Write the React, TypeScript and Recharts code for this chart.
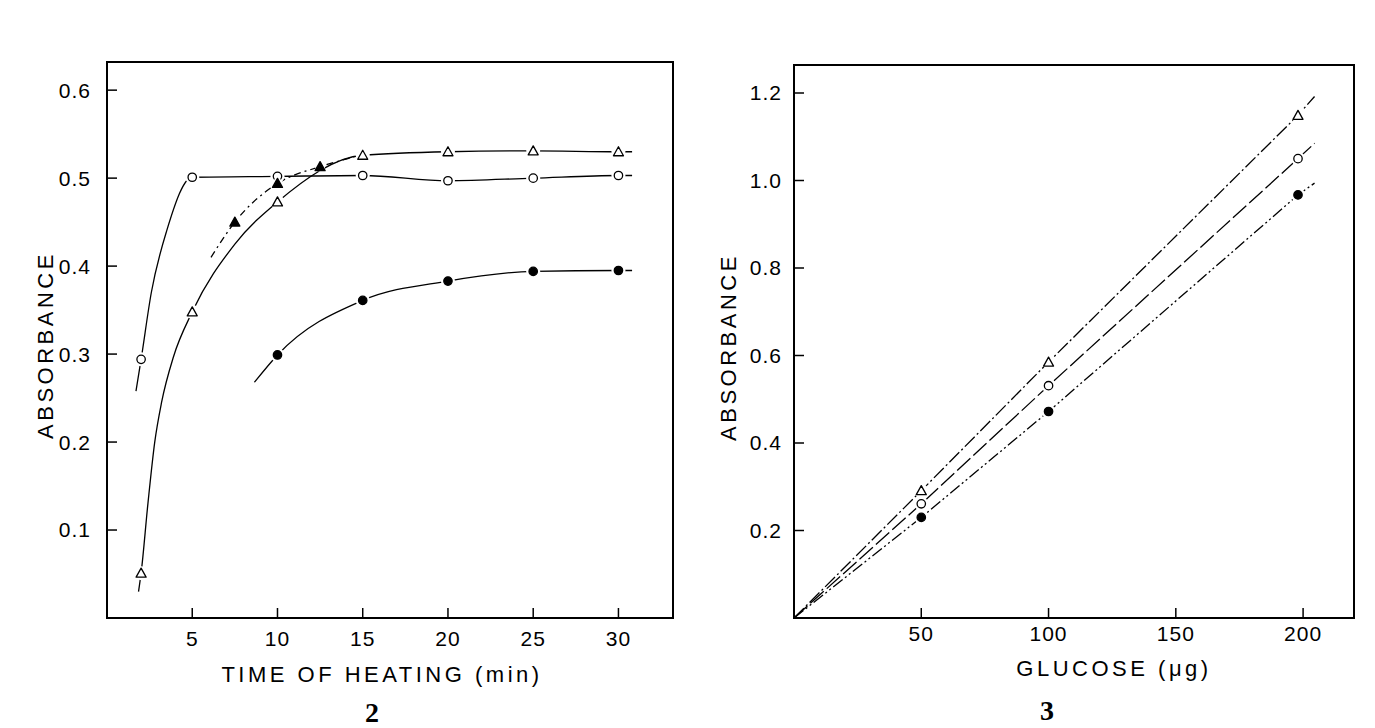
import { ComposedChart, Line, Scatter, XAxis, YAxis, ReferenceArea } from "recharts";

// ---- Fig. 2: absorbance vs. heating time ----
const heatTicksX = [5, 10, 15, 20, 25, 30];
const heatTicksY = [0.1, 0.2, 0.3, 0.4, 0.5, 0.6];

const heatTimes = [2, 5, 10, 15, 20, 25, 30];
const openCircleAbs = [0.294, 0.501, 0.502, 0.503, 0.497, 0.5, 0.503];
const openTriangleAbs = [0.051, 0.348, 0.473, 0.526, 0.53, 0.531, 0.53];
const solidTriangleTimes = [7.5, 10, 12.5];
const solidTriangleAbs = [0.45, 0.494, 0.513];
const solidCircleTimes = [10, 15, 20, 25, 30];
const solidCircleAbs = [0.299, 0.361, 0.383, 0.394, 0.395];

// hand-fitted curves drawn through the points
const openCircleCurveX = [1.7, 2, 2.6, 3.5, 5, 10, 15, 20, 25, 30, 30.8];
const openCircleCurveY = [0.258, 0.294, 0.37, 0.44, 0.501, 0.502, 0.503, 0.497, 0.5, 0.503, 0.503];
const openTriangleCurveX = [1.85, 2, 2.4, 2.8, 3.2, 3.9, 5, 7.5, 10, 15, 20, 25, 30, 30.8];
const openTriangleCurveY = [0.03, 0.051, 0.13, 0.2, 0.245, 0.297, 0.348, 0.425, 0.473, 0.526, 0.53, 0.531, 0.53, 0.53];
const solidTriangleCurveX = [6.1, 7.5, 10, 12.5, 14.5];
const solidTriangleCurveY = [0.41, 0.45, 0.494, 0.513, 0.524];
const solidCircleCurveX = [8.65, 10, 15, 20, 25, 30, 30.8];
const solidCircleCurveY = [0.268, 0.299, 0.361, 0.383, 0.394, 0.395, 0.395];

// ---- Fig. 3: absorbance vs. glucose ----
const gluTicksX = [50, 100, 150, 200];
const gluTicksY = [0.2, 0.4, 0.6, 0.8, 1.0, 1.2];

const glucoseAmounts = [50, 100, 198];
const gluOpenTriangle = [0.291, 0.585, 1.149];
const gluOpenCircle = [0.261, 0.531, 1.05];
const gluSolidCircle = [0.23, 0.472, 0.967];

const gluLineX = [0, 50, 100, 198, 204.5];
const gluTriangleLineY = [0, 0.291, 0.585, 1.149, 1.192];
const gluCircleLineY = [0, 0.261, 0.531, 1.05, 1.085];
const gluSolidLineY = [0, 0.23, 0.472, 0.967, 0.994];

const zip = (xs: number[], ys: number[]) => xs.map((x, i) => ({ x, y: ys[i] }));

const FONT = "'Liberation Sans', Arial, sans-serif";
const tickStyle = { fill: "#000", fontSize: 21, fontFamily: FONT, letterSpacing: 1 };

type Kind = "openCircle" | "solidCircle" | "openTriangle" | "solidTriangle";

function Marker({ cx, cy, kind }: { cx: number; cy: number; kind: Kind }) {
  const filled = kind === "solidCircle" || kind === "solidTriangle";
  const fill = filled ? "#000" : "#fff";
  const tri = `${cx},${cy - 5} ${cx - 5},${cy + 4} ${cx + 5},${cy + 4}`;
  return (
    <g>
      {/* white halo so the curves stop short of each point */}
      <circle cx={cx} cy={cy} r={kind === "solidTriangle" ? 5 : 7} fill="#fff" />
      {kind === "openCircle" || kind === "solidCircle" ? (
        <circle cx={cx} cy={cy} r={4.2} fill={fill} stroke="#000" strokeWidth={1.3} />
      ) : (
        <polygon points={tri} fill={fill} stroke="#000" strokeWidth={1.3} strokeLinejoin="round" />
      )}
    </g>
  );
}

const shapeOf = (kind: Kind) => (p: any) => <Marker cx={p.cx} cy={p.cy} kind={kind} />;

const axisCommon = {
  type: "number" as const,
  axisLine: false,
  tickSize: -10,
  tickLine: { stroke: "#000", strokeWidth: 1.5 },
  tick: tickStyle,
};

function HeatingChart() {
  return (
    <ComposedChart width={700} height={728} margin={{ top: 62, right: 27, bottom: 80, left: 47 }}>
      <XAxis {...axisCommon} dataKey="x" domain={[0, 33.2]} ticks={heatTicksX} tickMargin={23} height={30} />
      <YAxis
        {...axisCommon}
        dataKey="y"
        domain={[0, 0.632]}
        ticks={heatTicksY}
        tickFormatter={(v: number) => v.toFixed(1)}
        tickMargin={26}
        width={60}
      />
      <ReferenceArea x1={0} x2={33.2} y1={0} y2={0.632} fill="none" stroke="#000" strokeWidth={2} />
      <Line data={zip(openCircleCurveX, openCircleCurveY)} dataKey="y" type="monotone" stroke="#000" strokeWidth={1.3} dot={false} isAnimationActive={false} />
      <Line data={zip(openTriangleCurveX, openTriangleCurveY)} dataKey="y" type="monotone" stroke="#000" strokeWidth={1.3} dot={false} isAnimationActive={false} />
      <Line data={zip(solidTriangleCurveX, solidTriangleCurveY)} dataKey="y" type="monotone" stroke="#000" strokeWidth={1.3} strokeDasharray="7 4 2 4" dot={false} isAnimationActive={false} />
      <Line data={zip(solidCircleCurveX, solidCircleCurveY)} dataKey="y" type="monotone" stroke="#000" strokeWidth={1.3} dot={false} isAnimationActive={false} />
      <Scatter data={zip(heatTimes, openTriangleAbs)} shape={shapeOf("openTriangle")} isAnimationActive={false} />
      <Scatter data={zip(heatTimes, openCircleAbs)} shape={shapeOf("openCircle")} isAnimationActive={false} />
      <Scatter data={zip(solidCircleTimes, solidCircleAbs)} shape={shapeOf("solidCircle")} isAnimationActive={false} />
      <Scatter data={zip(solidTriangleTimes, solidTriangleAbs)} shape={shapeOf("solidTriangle")} isAnimationActive={false} />
    </ComposedChart>
  );
}

function GlucoseChart() {
  return (
    <ComposedChart width={675} height={728} margin={{ top: 65, right: 21, bottom: 80, left: 34 }}>
      <XAxis {...axisCommon} dataKey="x" domain={[0, 220]} ticks={gluTicksX} tickMargin={18} height={30} />
      <YAxis
        {...axisCommon}
        dataKey="y"
        domain={[0, 1.264]}
        ticks={gluTicksY}
        tickFormatter={(v: number) => v.toFixed(1)}
        tickMargin={22}
        width={60}
      />
      <ReferenceArea x1={0} x2={220} y1={0} y2={1.264} fill="none" stroke="#000" strokeWidth={2} />
      <Line data={zip(gluLineX, gluTriangleLineY)} dataKey="y" type="linear" stroke="#000" strokeWidth={1.3} strokeDasharray="14 3 2 3" dot={false} isAnimationActive={false} />
      <Line data={zip(gluLineX, gluCircleLineY)} dataKey="y" type="linear" stroke="#000" strokeWidth={1.3} strokeDasharray="18 4" dot={false} isAnimationActive={false} />
      <Line data={zip(gluLineX, gluSolidLineY)} dataKey="y" type="linear" stroke="#000" strokeWidth={1.3} strokeDasharray="12 3 2 3 2 3" dot={false} isAnimationActive={false} />
      <Scatter data={zip(glucoseAmounts, gluOpenTriangle)} shape={shapeOf("openTriangle")} isAnimationActive={false} />
      <Scatter data={zip(glucoseAmounts, gluOpenCircle)} shape={shapeOf("openCircle")} isAnimationActive={false} />
      <Scatter data={zip(glucoseAmounts, gluSolidCircle)} shape={shapeOf("solidCircle")} isAnimationActive={false} />
    </ComposedChart>
  );
}

export default function App() {
  const title = { fontFamily: FONT, fontSize: 22, letterSpacing: 3.5, fill: "#000" } as const;
  const figNo = { fontFamily: "'Liberation Serif', 'DejaVu Serif', serif", fontSize: 28, fontWeight: 700, fill: "#000" } as const;
  return (
    <div style={{ position: "absolute", left: 0, top: 0, width: 1375, height: 728, background: "#fff", overflow: "hidden" }}>
      <div style={{ position: "absolute", left: 0, top: 0 }}>
        <HeatingChart />
      </div>
      <div style={{ position: "absolute", left: 700, top: 0 }}>
        <GlucoseChart />
      </div>
      <svg width={1375} height={728} style={{ position: "absolute", left: 0, top: 0, pointerEvents: "none" }}>
        <text x={53} y={345} transform="rotate(-90 53 345)" textAnchor="middle" {...title}>ABSORBANCE</text>
        <text x={736} y={347} transform="rotate(-90 736 347)" textAnchor="middle" {...title}>ABSORBANCE</text>
        <text x={382} y={682} textAnchor="middle" {...title}>TIME OF HEATING (min)</text>
        <text x={1114} y={676} textAnchor="middle" {...title}>GLUCOSE (μg)</text>
        <text x={372} y={722} textAnchor="middle" {...figNo}>2</text>
        <text x={1047} y={720} textAnchor="middle" {...figNo}>3</text>
      </svg>
    </div>
  );
}
